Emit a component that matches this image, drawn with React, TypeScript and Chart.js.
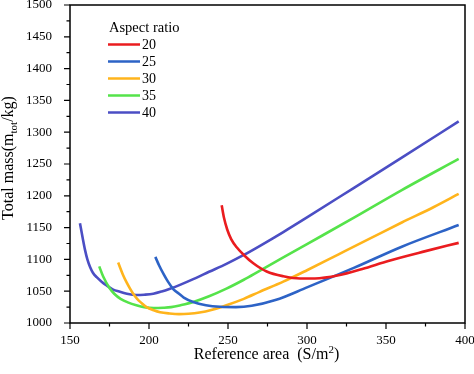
import React, { useEffect, useRef } from "react";
import { Chart, registerables } from "chart.js";

Chart.register(...registerables);

// ---- data ----
const seriesLabels = ["20", "25", "30", "35", "40"];
const seriesColors = ["#ea1c1f", "#2d63c6", "#ffb41c", "#55e34a", "#4b4ec4"];

const x20 = [246, 247.5, 249.5, 252, 255.5, 260, 266, 274.5, 285, 295.6, 305, 320, 335, 352, 375, 396];
const y20 = [1185, 1165, 1147, 1132, 1119, 1107, 1094, 1081, 1073.5, 1070, 1070, 1075, 1085, 1098, 1113, 1126];

const x25 = [204, 206.5, 209, 212, 215.5, 219, 222, 228, 236, 245, 255, 265, 280, 300, 330, 360, 396];
const y25 = [1104, 1090, 1078, 1065, 1053, 1046, 1040, 1033, 1028, 1025.5, 1025, 1027, 1036, 1056, 1087, 1120, 1154];

const x30 = [180.5, 183.5, 186, 188, 190, 192.5, 195, 198.5, 203, 207, 213, 219, 225, 232, 240, 249, 260, 270, 285, 300, 320, 340, 360, 380, 396];
const y30 = [1095, 1076, 1063, 1054, 1046, 1038, 1032, 1025, 1020, 1017, 1015, 1014, 1014.5, 1016.5, 1021, 1028, 1038, 1049, 1065, 1083, 1108, 1133, 1158, 1182, 1203];

const x35 = [168.5, 171, 175, 178, 182, 187, 192, 197, 203, 209, 214, 220, 228, 238, 249, 260, 270, 285, 300, 330, 360, 396];
const y35 = [1089, 1073, 1055, 1046, 1038, 1032, 1028, 1025, 1023.5, 1024, 1025, 1028, 1033, 1042, 1054, 1068, 1082, 1103, 1124, 1166, 1209, 1258];

const x40 = [156.3, 158, 159.5, 161, 162.7, 164.5, 166.9, 170, 173.2, 177, 181.6, 186, 192.2, 197, 202.7, 208, 213.3, 219.6, 228, 238, 249, 260, 270, 285, 300, 330, 360, 396];
const y40 = [1157, 1134, 1115, 1100, 1088, 1079, 1072, 1065, 1059, 1053, 1049, 1046, 1044, 1044.5, 1046, 1049.5, 1054, 1060, 1069, 1080.5, 1093, 1107, 1121, 1143, 1166, 1213, 1260, 1317];

const seriesX = [x20, x25, x30, x35, x40];
const seriesY = [y20, y25, y30, y35, y40];

const xMin = 150, xMax = 400, xStep = 50, xMinor = 25;
const yMin = 1000, yMax = 1500, yStep = 50, yMinor = 25;

const legendTitle = "Aspect ratio";
const xTitleMain = "Reference area  (S/m";
const xTitleSup = "2";
const xTitleEnd = ")";
const yTitleMain = "Total mass(m";
const yTitleSub = "tot";
const yTitleEnd = "/kg)";

const FONT = '"Liberation Serif", "Times New Roman", serif';

const framePlugin = {
  id: "frame",
  afterDraw(chart: any) {
    const { ctx, chartArea } = chart;
    const { left, right, top, bottom } = chartArea;
    const xs = chart.scales.x;
    const ys = chart.scales.y;
    ctx.save();
    ctx.strokeStyle = "#000";
    ctx.lineWidth = 1.5;
    ctx.strokeRect(left, top, right - left, bottom - top);
    ctx.lineWidth = 1.2;
    ctx.beginPath();
    for (let v = xMin; v <= xMax; v += xMinor) {
      const px = xs.getPixelForValue(v);
      const len = v % xStep === 0 ? 6 : 3.5;
      ctx.moveTo(px, bottom);
      ctx.lineTo(px, bottom + len);
    }
    for (let v = yMin; v <= yMax; v += yMinor) {
      const py = ys.getPixelForValue(v);
      const len = v % yStep === 0 ? 6 : 3.5;
      ctx.moveTo(left, py);
      ctx.lineTo(left - len, py);
    }
    ctx.stroke();

    ctx.fillStyle = "#000";
    ctx.textBaseline = "alphabetic";
    ctx.textAlign = "left";

    // x title
    ctx.font = `16px ${FONT}`;
    const w1 = ctx.measureText(xTitleMain).width;
    const w3 = ctx.measureText(xTitleEnd).width;
    ctx.font = `11px ${FONT}`;
    const w2 = ctx.measureText(xTitleSup).width;
    const cx = (left + right) / 2 - 1;
    const sx = cx - (w1 + w2 + w3) / 2;
    const by = 359;
    ctx.font = `16px ${FONT}`;
    ctx.fillText(xTitleMain, sx, by);
    ctx.font = `11px ${FONT}`;
    ctx.fillText(xTitleSup, sx + w1, by - 6);
    ctx.font = `16px ${FONT}`;
    ctx.fillText(xTitleEnd, sx + w1 + w2, by);

    // y title
    ctx.save();
    ctx.translate(13, 158);
    ctx.rotate(-Math.PI / 2);
    ctx.font = `16px ${FONT}`;
    const a1 = ctx.measureText(yTitleMain).width;
    const a3 = ctx.measureText(yTitleEnd).width;
    ctx.font = `11px ${FONT}`;
    const a2 = ctx.measureText(yTitleSub).width;
    const s = -(a1 + a2 + a3) / 2;
    ctx.font = `16px ${FONT}`;
    ctx.fillText(yTitleMain, s, 0);
    ctx.font = `11px ${FONT}`;
    ctx.fillText(yTitleSub, s + a1, 3.5);
    ctx.font = `16px ${FONT}`;
    ctx.fillText(yTitleEnd, s + a1 + a2, 0);
    ctx.restore();

    // legend
    const lx = left + 39;
    ctx.font = `14.5px ${FONT}`;
    ctx.textBaseline = "middle";
    ctx.fillText(legendTitle, lx, top + 23);
    ctx.font = `14px ${FONT}`;
    chart.data.datasets.forEach((ds: any, i: number) => {
      const ly = top + 39.5 + i * 17;
      ctx.strokeStyle = ds.borderColor;
      ctx.lineWidth = 2.5;
      ctx.beginPath();
      ctx.moveTo(lx - 1, ly);
      ctx.lineTo(lx + 31, ly);
      ctx.stroke();
      ctx.fillStyle = "#000";
      ctx.fillText(ds.label, lx + 33, ly + 1);
    });
    ctx.restore();
  },
};

export default function App() {
  const ref = useRef<HTMLCanvasElement | null>(null);
  useEffect(() => {
    if (!ref.current) return;
    const datasets = seriesLabels.map((label, i) => ({
      label,
      data: seriesX[i].map((x, j) => ({ x, y: seriesY[i][j] })),
      borderColor: seriesColors[i],
      backgroundColor: seriesColors[i],
      borderWidth: 2.6,
      pointRadius: 0,
      fill: false,
      cubicInterpolationMode: "monotone" as const,
    }));
    const chart = new Chart(ref.current, {
      type: "line",
      data: { datasets },
      options: {
        responsive: false,
        animation: false,
        devicePixelRatio: 1,
        layout: { padding: { left: 0, top: 5, right: 9, bottom: 0 } },
        plugins: { legend: { display: false }, tooltip: { enabled: false } },
        scales: {
          x: {
            type: "linear",
            min: xMin,
            max: xMax,
            grid: { display: false },
            border: { display: false },
            ticks: {
              stepSize: xStep,
              color: "#000",
              padding: 2,
              font: { family: FONT, size: 13 },
              maxRotation: 0,
              callback: (v: any) => String(v),
            },
            afterFit(scale: any) {
              scale.height = 51;
              scale.paddingLeft = 0;
              scale.paddingRight = 0;
            },
          },
          y: {
            type: "linear",
            min: yMin,
            max: yMax,
            grid: { display: false },
            border: { display: false },
            ticks: {
              stepSize: yStep,
              color: "#000",
              padding: 10,
              font: { family: FONT, size: 13 },
              callback: (v: any) => String(v),
            },
            afterFit(scale: any) {
              scale.width = 70;
              scale.paddingTop = 0;
              scale.paddingBottom = 0;
            },
          },
        },
      },
      plugins: [framePlugin],
    });
    return () => chart.destroy();
  }, []);
  return (
    <div style={{ position: "fixed", left: 0, top: 0, width: 474, height: 374, background: "#fff" }}>
      <canvas ref={ref} width={474} height={374} />
    </div>
  );
}
